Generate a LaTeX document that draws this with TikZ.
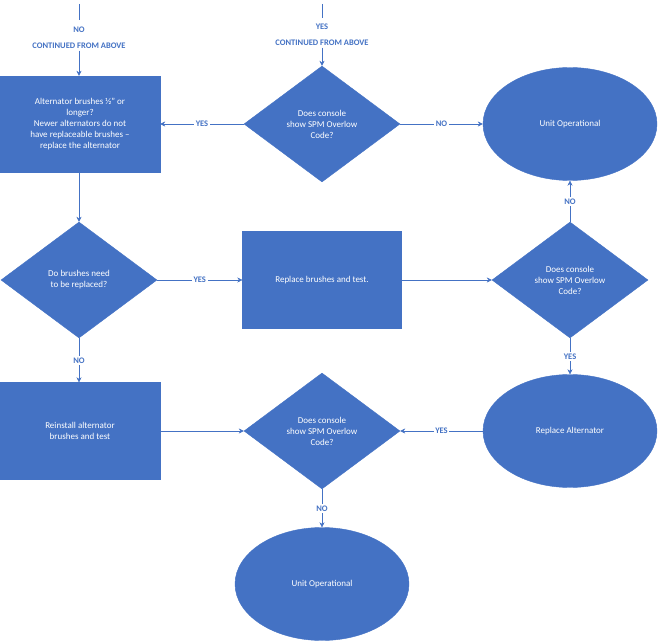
\documentclass[tikz,border=0pt]{standalone}
\usepackage{fontspec}
\setmainfont{Carlito}
\usetikzlibrary{shapes.geometric,arrows.meta}
\definecolor{bl}{HTML}{4472C4}
\begin{document}
\begin{tikzpicture}[x=1pt,y=-1pt,font=\fontsize{9}{11}\selectfont,
 box/.style={draw=bl,fill=bl,text=white,align=center,minimum width=160pt,minimum height=96pt,inner sep=2pt},
 dia/.style={diamond,draw=bl,fill=bl,text=white,align=center,minimum width=156pt,minimum height=116pt,inner sep=0pt,aspect=1.35},
 ell/.style={ellipse,draw=bl,fill=bl,text=white,align=center,minimum width=174pt,minimum height=113pt},
 lab/.style={fill=white,text=bl,font=\fontsize{8.5}{10}\selectfont\bfseries,inner sep=1.5pt},
 ar/.style={draw=bl,-{Stealth[length=5pt,width=5pt]}},
 ln/.style={draw=bl}]
\useasboundingbox (0,0) rectangle (664,644);
\node[box] (b1) at (80,124) {Alternator brushes ½” or\\longer?\\Newer alternators do not\\have replaceable brushes –\\replace the alternator};
\node[box,minimum width=159pt,minimum height=97pt] (b2) at (322,280) {Replace brushes and test.};
\node[box,minimum height=97pt] (b3) at (80,431) {Reinstall alternator\\brushes and test};
\node[dia] (d1) at (322,124) {Does console\\show SPM Overlow\\Code?};
\node[dia] (d2) at (79,280) {Do brushes need\\to be replaced?};
\node[dia] (d3) at (570,280) {Does console\\show SPM Overlow\\Code?};
\node[dia] (d4) at (322,431) {Does console\\show SPM Overlow\\Code?};
\node[ell] (e1) at (570,124) {Unit Operational};
\node[ell] (e2) at (570,431) {Replace Alternator};
\node[ell] (e3) at (322,584) {Unit Operational};
% top-left continuation
\coordinate (t1) at (79,4);
\node[lab] (n1) at (79,30) {NO};
\node[lab] (c1) at (79,46) {CONTINUED FROM ABOVE};
\draw[ln] (t1) -- (79,20);
\draw[ar] (c1.south) -- (b1.north -| c1.south);
% top-middle continuation
\coordinate (t2) at (322,4);
\node[lab] (n2) at (322,27) {YES};
\node[lab] (c2) at (322,43) {CONTINUED FROM ABOVE};
\draw[ln] (t2) -- (322,18);
\draw[ar] (c2.south) -- (d1.north);
\draw[ar] (d1.west) -- node[lab]{YES} (b1.east);
\draw[ar] (d1.east) -- node[lab]{NO} (e1.west);
\draw[ar] (b1.south -| d2.north) -- (d2.north);
\draw[ar] (d2.east) -- node[lab]{YES} (b2.west |- d2.east);
\draw[ar] (b2.east |- d3.west) -- (d3.west);
\draw[ar] (d3.north) -- node[lab]{NO} (e1.south);
\draw[ar] (d3.south) -- node[lab]{YES} (e2.north);
\draw[ar] (d2.south) -- node[lab]{NO} (b3.north -| d2.south);
\draw[ar] (e2.west) -- node[lab]{YES} (d4.east);
\draw[ar] (b3.east) -- (d4.west);
\draw[ar] (d4.south) -- node[lab]{NO} (e3.north);
\end{tikzpicture}
\end{document}
